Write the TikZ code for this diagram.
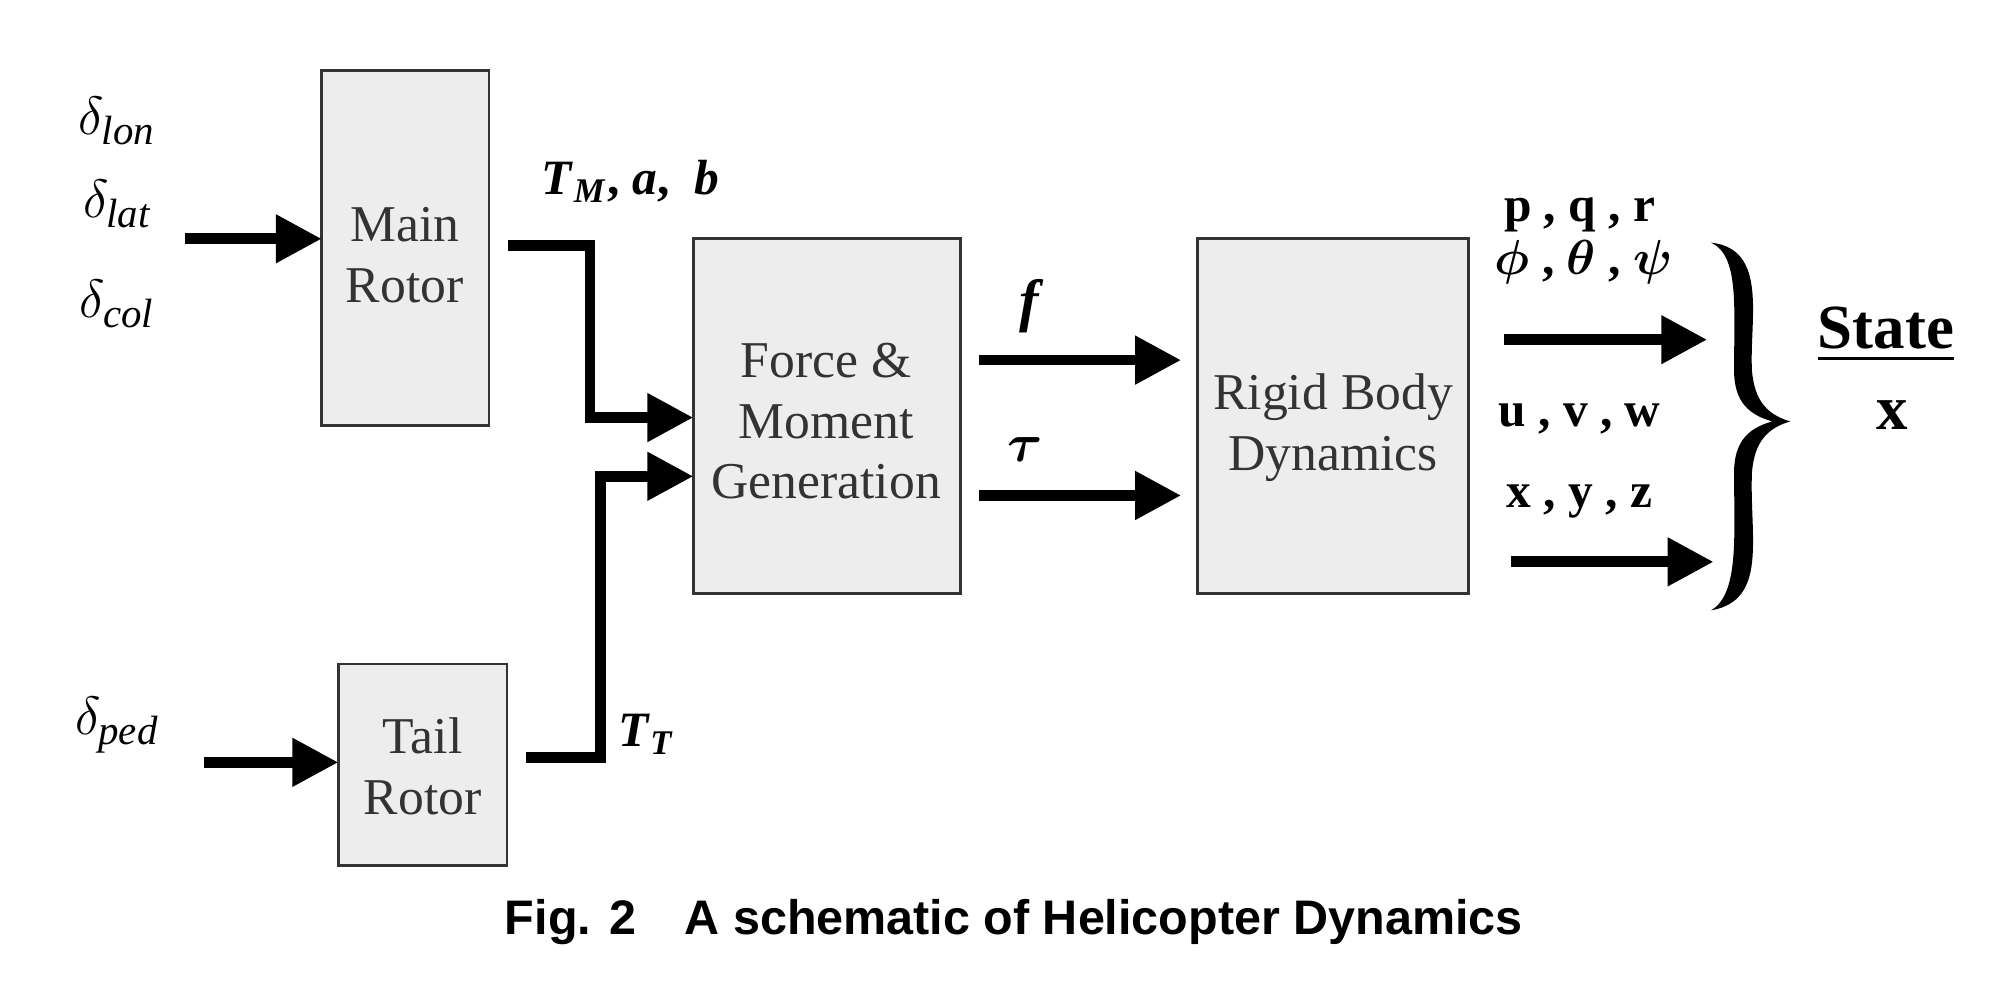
\documentclass[tikz,border=0pt]{standalone}
\usepackage{amsmath,bm}
\usepackage{fontspec}
\setmainfont{Liberation Serif}
\newfontfamily\capfont{Liberation Sans}
\usetikzlibrary{arrows.meta}
\begin{document}
\begin{tikzpicture}[x=0.01cm,y=-0.01cm,
  blk/.style={draw=black!80,line width=0.6pt,fill=black!7},
  btxt/.style={font=\fontsize{11.5}{13.5}\selectfont,align=center,text=black!80},
  sig/.style={line width=2.4pt,-{Triangle[length=0.36cm,width=0.36cm]}},
  lab/.style={font=\fontsize{11}{13}\selectfont\bfseries}]
\useasboundingbox (0,0) rectangle (1560,775);
\draw[blk] (252,55) rectangle (383,333);
\node[btxt] (mr) at (317,200) {Main\\Rotor};
\draw[blk] (265,520) rectangle (397,678);
\node[btxt] (tr) at (331,600) {Tail\\Rotor};
\draw[blk] (543,187) rectangle (752,465);
\node[btxt] (fm) at (647,330) {Force \&\\Moment\\Generation};
\draw[blk] (938,187) rectangle (1150,465);
\node[btxt] (rb) at (1044,335) {Rigid Body\\Dynamics};
\coordinate (mrin) at (145,187); \coordinate (mrL) at (252,187);
\coordinate (trin) at (160,597); \coordinate (trL) at (265,597);
\draw[sig] (mrin) -- (mrL);
\draw[sig] (trin) -- (trL);
\draw[sig] (398,192) -- (462,192) -- (462,327) -- (543,327);
\draw[sig] (412,593) -- (470,593) -- (470,373) -- (543,373);
\draw[sig] (767,282) -- (925,282);
\draw[sig] (767,388) -- (925,388);
\draw[sig] (1178,266) -- (1337,266);
\draw[sig] (1183,440) -- (1342,440);
\node[font=\fontsize{13}{15}\selectfont] at (92,95) {$\delta_{\mathit{lon}}$};
\node[font=\fontsize{13}{15}\selectfont] at (92,160) {$\delta_{\mathit{lat}}$};
\node[font=\fontsize{13}{15}\selectfont] at (92,238) {$\delta_{\mathit{col}}$};
\node[font=\fontsize{13}{15}\selectfont] at (92,568) {$\delta_{\mathit{ped}}$};
\node[lab,anchor=west] at (412,142) {\textit{T}\textsubscript{\textit{M}}, \textit{a}, \ \textit{b}};
\node[lab,anchor=west] at (472,575) {\textit{T}\textsubscript{\textit{T}}};
\node[font=\fontsize{13}{15}\selectfont\bfseries] at (808,240) {\textit{f}};
\node[font=\fontsize{13}{15}\selectfont] at (803,352) {$\bm{\tau}$};
\node[lab] at (1237,168) {p , q , r};
\node[lab] at (1240,205) {$\bm{\phi}$ , $\bm{\theta}$ , $\bm{\psi}$};
\node[lab] at (1237,328) {u , v , w};
\node[lab] at (1237,393) {x , y , z};
% brace
\fill (1340,190) .. controls (1385,195) and (1370,250) .. (1372,290)
  .. controls (1374,315) and (1385,325) .. (1402,330)
  .. controls (1385,335) and (1374,345) .. (1372,370)
  .. controls (1370,420) and (1385,470) .. (1340,478)
  .. controls (1362,465) and (1358,420) .. (1358,370)
  .. controls (1358,345) and (1370,335) .. (1388,330)
  .. controls (1370,325) and (1358,315) .. (1358,290)
  .. controls (1358,240) and (1362,200) .. (1340,190) -- cycle;
\node[font=\fontsize{14}{16}\selectfont\bfseries] at (1477,262) {\underline{State}};
\node[font=\fontsize{14}{16}\selectfont\bfseries] at (1482,325) {x};
\node[font=\capfont\bfseries\fontsize{10.8}{13}\selectfont] at (794,722) {Fig. 2\quad A schematic of Helicopter Dynamics};
\end{tikzpicture}
\end{document}
